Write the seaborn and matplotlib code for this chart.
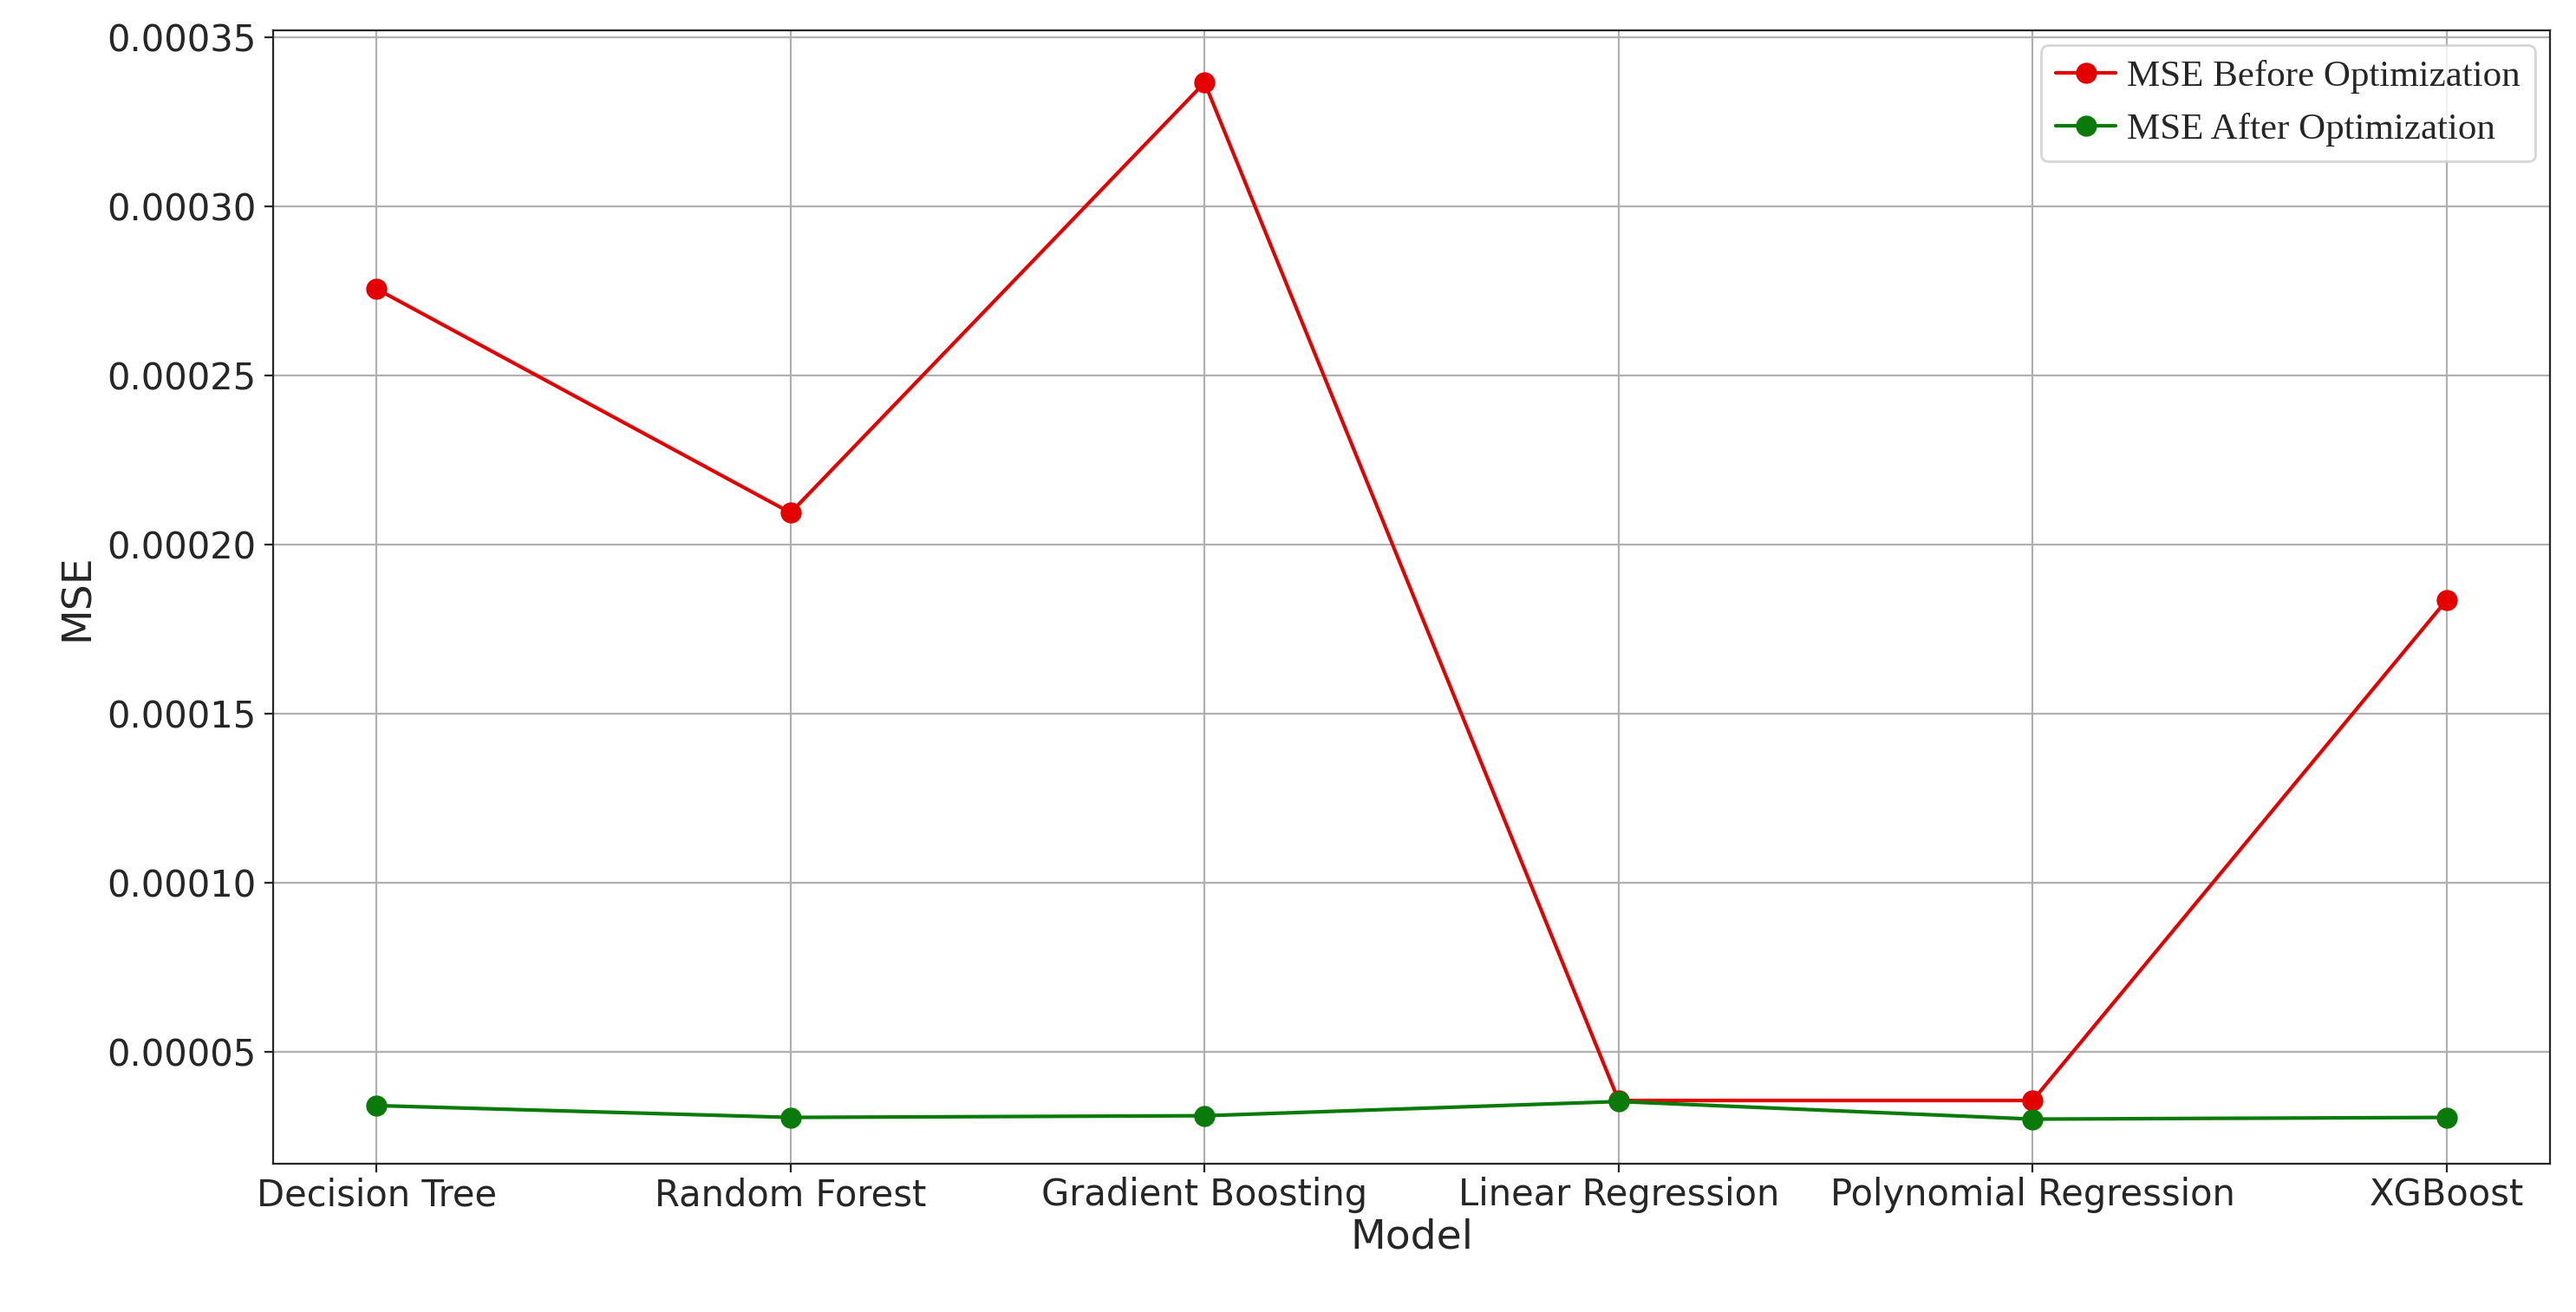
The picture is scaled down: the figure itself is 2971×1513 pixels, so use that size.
import pandas as pd
import matplotlib.pyplot as plt
import seaborn as sns

sns.set_style('ticks')
plt.rcParams['font.family'] = ['DejaVu Sans']

modelos = ['Decision Tree', 'Random Forest', 'Gradient Boosting',
           'Linear Regression', 'Polynomial Regression', 'XGBoost']
mse_antes = [0.0002755, 0.0002093, 0.0003365, 0.0000355, 0.0000355, 0.0001835]
mse_despues = [0.0000340, 0.0000305, 0.0000310, 0.0000352, 0.0000300, 0.0000305]

df = pd.DataFrame({'Model': modelos, 'antes': mse_antes, 'despues': mse_despues})

fig, ax = plt.subplots(figsize=(14.855, 7.565), dpi=200)
fig.subplots_adjust(left=0.106, right=0.99, top=0.977, bottom=0.113)

sns.lineplot(data=df, x='Model', y='antes', marker='o', color='#e50000', markeredgecolor='#e50000',
             markersize=8, linewidth=1.5, label='MSE Before Optimization', ax=ax, sort=False)
sns.lineplot(data=df, x='Model', y='despues', marker='o', color='#0a7a0a', markeredgecolor='#0a7a0a',
             markersize=8, linewidth=1.5, label='MSE After Optimization', ax=ax, sort=False)

ax.grid(True, color='#b0b0b0', linewidth=0.8)
ax.set_xlabel('Model', fontsize=17, labelpad=2)
ax.set_ylabel('MSE', fontsize=17)
ax.tick_params(labelsize=15)
ax.tick_params(axis='x', pad=2)
ax.set_yticks([0.00005, 0.0001, 0.00015, 0.0002, 0.00025, 0.0003, 0.00035])
ax.set_yticklabels(['0.00005', '0.00010', '0.00015', '0.00020', '0.00025', '0.00030', '0.00035'])
ax.set_ylim(0.0000168, 0.000352)
ax.legend(loc='upper right', prop={'family': 'Liberation Serif', 'size': 15.5},
          handlelength=1.6, handletextpad=0.3, borderaxespad=0.4)

plt.savefig('out.png')
plt.close()
